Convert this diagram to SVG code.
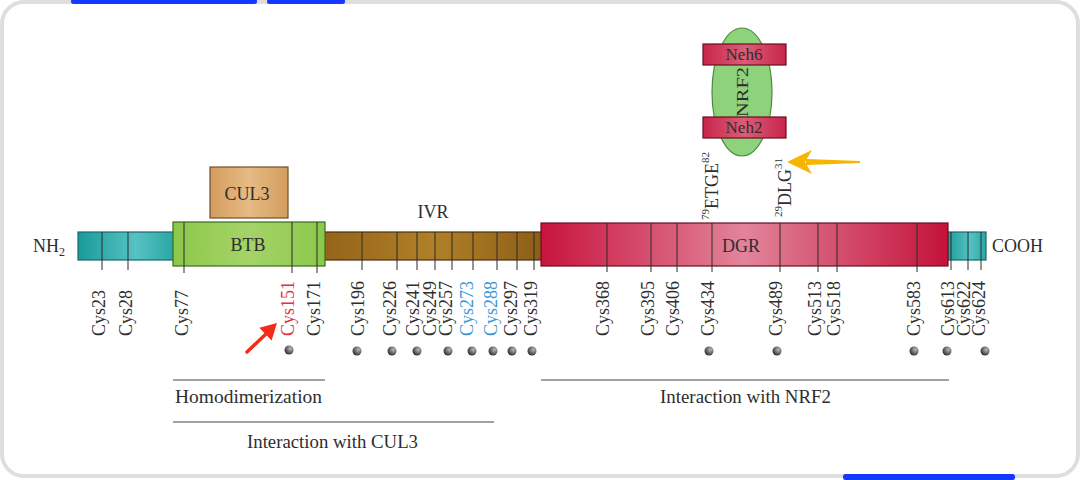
<svg xmlns="http://www.w3.org/2000/svg" width="1080" height="480" viewBox="0 0 1080 480">
<defs>
  <linearGradient id="teal" x1="0" y1="0" x2="1" y2="0">
    <stop offset="0" stop-color="#1a9a9a"/><stop offset="0.6" stop-color="#56c2c2"/><stop offset="1" stop-color="#2aa6a6"/>
  </linearGradient>
  <linearGradient id="green" x1="0" y1="0" x2="1" y2="0">
    <stop offset="0" stop-color="#8cc84a"/><stop offset="0.5" stop-color="#a4d468"/><stop offset="1" stop-color="#8cc84a"/>
  </linearGradient>
  <linearGradient id="tan" x1="0" y1="0" x2="1" y2="0">
    <stop offset="0" stop-color="#d39c5c"/><stop offset="0.5" stop-color="#e6bb85"/><stop offset="1" stop-color="#d39c5c"/>
  </linearGradient>
  <linearGradient id="brown" x1="0" y1="0" x2="1" y2="0">
    <stop offset="0" stop-color="#94641a"/><stop offset="0.5" stop-color="#b08028"/><stop offset="1" stop-color="#8c5e16"/>
  </linearGradient>
  <linearGradient id="crimson" x1="0" y1="0" x2="1" y2="0">
    <stop offset="0" stop-color="#c8143e"/><stop offset="0.5" stop-color="#e2849a"/><stop offset="1" stop-color="#c4123a"/>
  </linearGradient>
  <linearGradient id="neh" x1="0" y1="0" x2="1" y2="0">
    <stop offset="0" stop-color="#c8254a"/><stop offset="0.5" stop-color="#dc5c78"/><stop offset="1" stop-color="#c8254a"/>
  </linearGradient>
  <radialGradient id="dotg" cx="0.65" cy="0.35" r="0.7">
    <stop offset="0" stop-color="#b8b8b8"/><stop offset="1" stop-color="#2e2e2e"/>
  </radialGradient>
</defs>
<style>
  .t { font-family: "Liberation Serif", "Times New Roman", serif; fill: #2e2e2e; }
  .cys { font-size: 18px; }
  .red { fill: #e2323e; }
  .blue { fill: #3a98d8; }
  .tick { stroke: #2b2b2b; stroke-width: 1; }
  .dot { fill: url(#dotg); }
  .region { stroke: #444; stroke-width: 1.2; }
  .box { stroke-width: 1.2; }
</style>

<rect x="2" y="2" width="1076" height="474" rx="22" fill="#fff" stroke="#dedede" stroke-width="4"/>
<rect x="71" y="-1" width="186" height="5" rx="2.5" fill="#1438ff"/>
<rect x="267" y="-1" width="78" height="5" rx="2.5" fill="#1438ff"/>
<rect x="843" y="474" width="172" height="6" rx="2.5" fill="#1438ff"/>

<g id="nh2-terminal">
  <rect x="78" y="232" width="96" height="28" fill="url(#teal)" stroke="#1a6868" class="box"/>
  <text class="t" x="33" y="252" font-size="18">NH<tspan font-size="12" dy="4">2</tspan></text>
</g>
<g id="ivr">
  <rect x="323" y="232" width="220" height="28" fill="url(#brown)" stroke="#4a3010" class="box"/>
  <text class="t" x="433" y="218" font-size="18" text-anchor="middle">IVR</text>
</g>
<g id="cooh-terminal">
  <rect x="946" y="232" width="40" height="28" fill="url(#teal)" stroke="#1a6868" class="box"/>
  <text class="t" x="992" y="252" font-size="18">COOH</text>
</g>
<g id="btb">
  <rect x="173" y="222" width="152" height="44" fill="url(#green)" stroke="#3d6b1e" class="box"/>
  <text class="t" x="248" y="251" font-size="18" text-anchor="middle">BTB</text>
</g>
<g id="cul3">
  <rect x="210" y="167" width="78" height="51" fill="url(#tan)" stroke="#6e5028" class="box"/>
  <text class="t" x="247" y="200" font-size="18" text-anchor="middle">CUL3</text>
</g>
<g id="dgr">
  <rect x="541" y="223" width="407" height="43" fill="url(#crimson)" stroke="#6a0e1e" class="box"/>
  <text class="t" x="741" y="252" font-size="18" text-anchor="middle">DGR</text>
</g>
<g id="nrf2">
  <ellipse cx="742" cy="92" rx="30" ry="64" fill="#8fd27c" stroke="#4b8a3c" stroke-width="1.2"/>
  <rect x="703" y="44" width="83" height="21" fill="url(#neh)" stroke="#6a0e1e" class="box"/>
  <rect x="703" y="117" width="83" height="21" fill="url(#neh)" stroke="#6a0e1e" class="box"/>
  <text class="t" x="744" y="60" font-size="17" text-anchor="middle">Neh6</text>
  <text class="t" x="744" y="133" font-size="17" text-anchor="middle">Neh2</text>
  <text class="t" transform="translate(748,92) rotate(-90)" font-size="17" text-anchor="middle" textLength="50" lengthAdjust="spacingAndGlyphs">NRF2</text>
</g>
<g id="motifs">
  <text class="t" transform="translate(718,220) rotate(-90)" font-size="18"><tspan font-size="11" dy="-9">79</tspan><tspan dy="9">ETGE</tspan><tspan font-size="11" dy="-9">82</tspan></text>
  <text class="t" transform="translate(791,217) rotate(-90)" font-size="18"><tspan font-size="11" dy="-9">29</tspan><tspan dy="9">DLG</tspan><tspan font-size="11" dy="-9">31</tspan></text>
</g>

<g id="connectors">
  <g id="ticks">
    <line class="tick" x1="102" y1="232" x2="102" y2="270"/>
    <line class="tick" x1="128" y1="232" x2="128" y2="270"/>
    <line class="tick" x1="184" y1="222" x2="184" y2="273"/>
    <line class="tick" x1="292" y1="222" x2="292" y2="273"/>
    <line class="tick" x1="317" y1="222" x2="317" y2="273"/>
    <line class="tick" x1="362" y1="232" x2="362" y2="270"/>
    <line class="tick" x1="397" y1="232" x2="397" y2="270"/>
    <line class="tick" x1="417" y1="232" x2="417" y2="270"/>
    <line class="tick" x1="435" y1="232" x2="435" y2="270"/>
    <line class="tick" x1="452" y1="232" x2="452" y2="270"/>
    <line class="tick" x1="473" y1="232" x2="473" y2="270"/>
    <line class="tick" x1="497" y1="232" x2="497" y2="270"/>
    <line class="tick" x1="517" y1="232" x2="517" y2="270"/>
    <line class="tick" x1="534" y1="232" x2="534" y2="270"/>
    <line class="tick" x1="607" y1="223" x2="607" y2="272"/>
    <line class="tick" x1="651" y1="223" x2="651" y2="272"/>
    <line class="tick" x1="677" y1="223" x2="677" y2="272"/>
    <line class="tick" x1="712" y1="223" x2="712" y2="272"/>
    <line class="tick" x1="780" y1="223" x2="780" y2="272"/>
    <line class="tick" x1="818" y1="223" x2="818" y2="272"/>
    <line class="tick" x1="837" y1="223" x2="837" y2="272"/>
    <line class="tick" x1="917" y1="223" x2="917" y2="272"/>
    <line class="tick" x1="951" y1="232" x2="951" y2="270"/>
    <line class="tick" x1="968" y1="232" x2="968" y2="270"/>
    <line class="tick" x1="981" y1="232" x2="981" y2="270"/>
  </g>
  <g id="region-lines">
    <line class="region" x1="173" y1="380" x2="325" y2="380"/>
    <line class="region" x1="173" y1="422" x2="494" y2="422"/>
    <line class="region" x1="541" y1="380" x2="949" y2="380"/>
  </g>
  <g id="red-arrow" fill="#f52a1a">
    <line x1="247" y1="352" x2="267" y2="333" stroke="#f52a1a" stroke-width="3.5" stroke-linecap="round"/>
    <polygon points="277,323 271.6,340.4 259.4,327.8"/>
  </g>
  <g id="yellow-arrow" fill="#f7b500">
    <polygon points="860,161 806,159 806,165 860,163"/>
    <polygon points="787,162 812,150 805,162 812,174"/>
  </g>
</g>

<g id="cys-labels">
  <text class="t cys" transform="translate(104.5,336) rotate(-90)">Cys23</text>
  <text class="t cys" transform="translate(131.5,336) rotate(-90)">Cys28</text>
  <text class="t cys" transform="translate(187.5,336) rotate(-90)">Cys77</text>
  <text class="t cys red" transform="translate(293.5,336) rotate(-90)">Cys151</text>
  <text class="t cys" transform="translate(319.5,336) rotate(-90)">Cys171</text>
  <text class="t cys" transform="translate(364,336) rotate(-90)">Cys196</text>
  <text class="t cys" transform="translate(396,336) rotate(-90)">Cys226</text>
  <text class="t cys" transform="translate(419,336) rotate(-90)">Cys241</text>
  <text class="t cys" transform="translate(436,336) rotate(-90)">Cys249</text>
  <text class="t cys" transform="translate(452,336) rotate(-90)">Cys257</text>
  <text class="t cys blue" transform="translate(473,336) rotate(-90)">Cys273</text>
  <text class="t cys blue" transform="translate(497,336) rotate(-90)">Cys288</text>
  <text class="t cys" transform="translate(517,336) rotate(-90)">Cys297</text>
  <text class="t cys" transform="translate(537,336) rotate(-90)">Cys319</text>
  <text class="t cys" transform="translate(609,336) rotate(-90)">Cys368</text>
  <text class="t cys" transform="translate(654,336) rotate(-90)">Cys395</text>
  <text class="t cys" transform="translate(679,336) rotate(-90)">Cys406</text>
  <text class="t cys" transform="translate(714,336) rotate(-90)">Cys434</text>
  <text class="t cys" transform="translate(782,336) rotate(-90)">Cys489</text>
  <text class="t cys" transform="translate(821,336) rotate(-90)">Cys513</text>
  <text class="t cys" transform="translate(840,336) rotate(-90)">Cys518</text>
  <text class="t cys" transform="translate(920,336) rotate(-90)">Cys583</text>
  <text class="t cys" transform="translate(954,336) rotate(-90)">Cys613</text>
  <text class="t cys" transform="translate(970,336) rotate(-90)">Cys622</text>
  <text class="t cys" transform="translate(985,336) rotate(-90)">Cys624</text>
</g>

<g id="dots">
  <circle class="dot" cx="289" cy="350" r="4.5"/>
  <circle class="dot" cx="357" cy="351" r="4.5"/>
  <circle class="dot" cx="392" cy="351" r="4.5"/>
  <circle class="dot" cx="417" cy="351" r="4.5"/>
  <circle class="dot" cx="448" cy="351" r="4.5"/>
  <circle class="dot" cx="472" cy="351" r="4.5"/>
  <circle class="dot" cx="493" cy="351" r="4.5"/>
  <circle class="dot" cx="512" cy="351" r="4.5"/>
  <circle class="dot" cx="532" cy="351" r="4.5"/>
  <circle class="dot" cx="709" cy="351" r="4.5"/>
  <circle class="dot" cx="777" cy="351" r="4.5"/>
  <circle class="dot" cx="914" cy="351" r="4.5"/>
  <circle class="dot" cx="947" cy="351" r="4.5"/>
  <circle class="dot" cx="985" cy="351" r="4.5"/>
</g>

<g id="region-labels">
  <text class="t" x="175" y="403" font-size="18" textLength="147" lengthAdjust="spacingAndGlyphs">Homodimerization</text>
  <text class="t" x="247" y="448" font-size="18" textLength="171" lengthAdjust="spacingAndGlyphs">Interaction with CUL3</text>
  <text class="t" x="660" y="403" font-size="18" textLength="171" lengthAdjust="spacingAndGlyphs">Interaction with NRF2</text>
</g>
</svg>
